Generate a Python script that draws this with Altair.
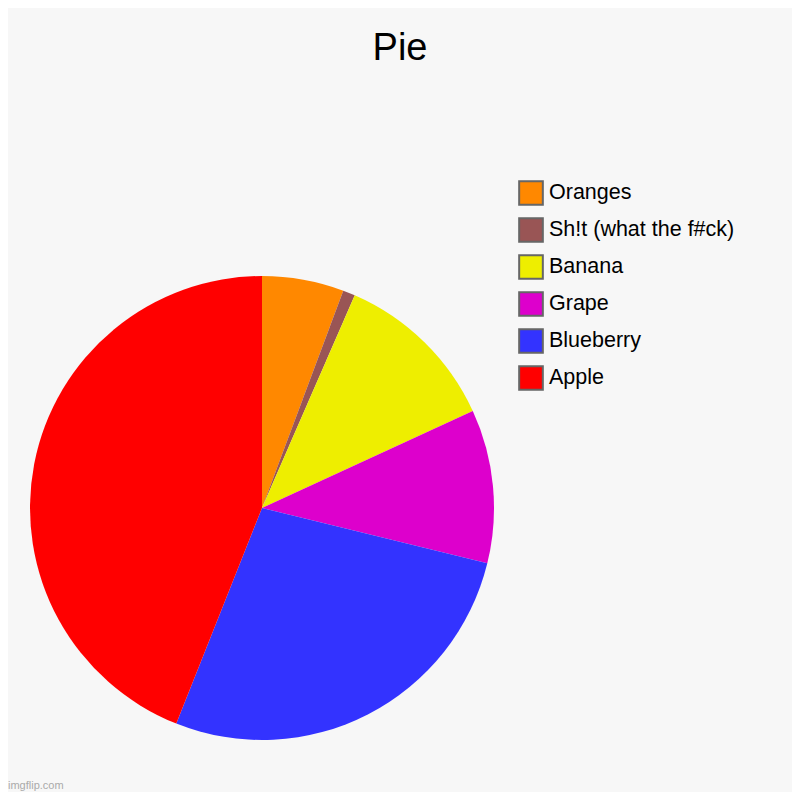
import altair as alt
import pandas as pd

categories = ["Oranges", "Sh!t (what the f#ck)", "Banana", "Grape", "Blueberry", "Apple"]
values = [5.7, 0.85, 11.6, 10.7, 27.2, 44.0]
colors = ["#FF8800", "#995555", "#EEEE00", "#DD00CC", "#3333FF", "#FF0000"]

df = pd.DataFrame({"fruit": categories, "value": values, "idx": list(range(len(categories)))})

pie = alt.Chart(df).mark_arc(outerRadius=232, stroke=None).encode(
    theta=alt.Theta("value:Q", stack=True),
    order=alt.Order("idx:Q"),
    x=alt.value(254),
    y=alt.value(400),
    color=alt.Color(
        "fruit:N",
        scale=alt.Scale(domain=categories, range=colors),
        sort=categories,
        legend=alt.Legend(
            title=None,
            orient="none",
            legendX=510,
            legendY=72,
            symbolType="square",
            symbolSize=560,
            symbolStrokeColor="#666666",
            symbolStrokeWidth=2,
            symbolOpacity=1,
            labelFont="Liberation Sans",
            labelFontSize=21.5,
            labelColor="#000000",
            labelOffset=5,
            rowPadding=5,
            labelLimit=400,
        ),
    ),
)

wm = alt.Chart(pd.DataFrame({"t": ["imgflip.com"]})).mark_text(
    align="left", baseline="bottom", font="Liberation Sans", fontSize=11, color="#AAAAAA"
).encode(text="t:N", x=alt.value(0), y=alt.value(683))

chart = alt.layer(pie, wm).properties(
    width=784,
    height=684,
    padding={"top": 100, "left": 0, "right": 0, "bottom": 0},
    autosize=alt.AutoSizeParams(type="none"),
    background="#F7F7F7",
    title=alt.Title("Pie", font="Liberation Sans", fontSize=38, fontWeight="normal",
                    color="#000000", anchor="middle", offset=40),
).configure_view(stroke=None)

chart.save("out.html", embed_options={"renderer": "svg", "actions": False})
